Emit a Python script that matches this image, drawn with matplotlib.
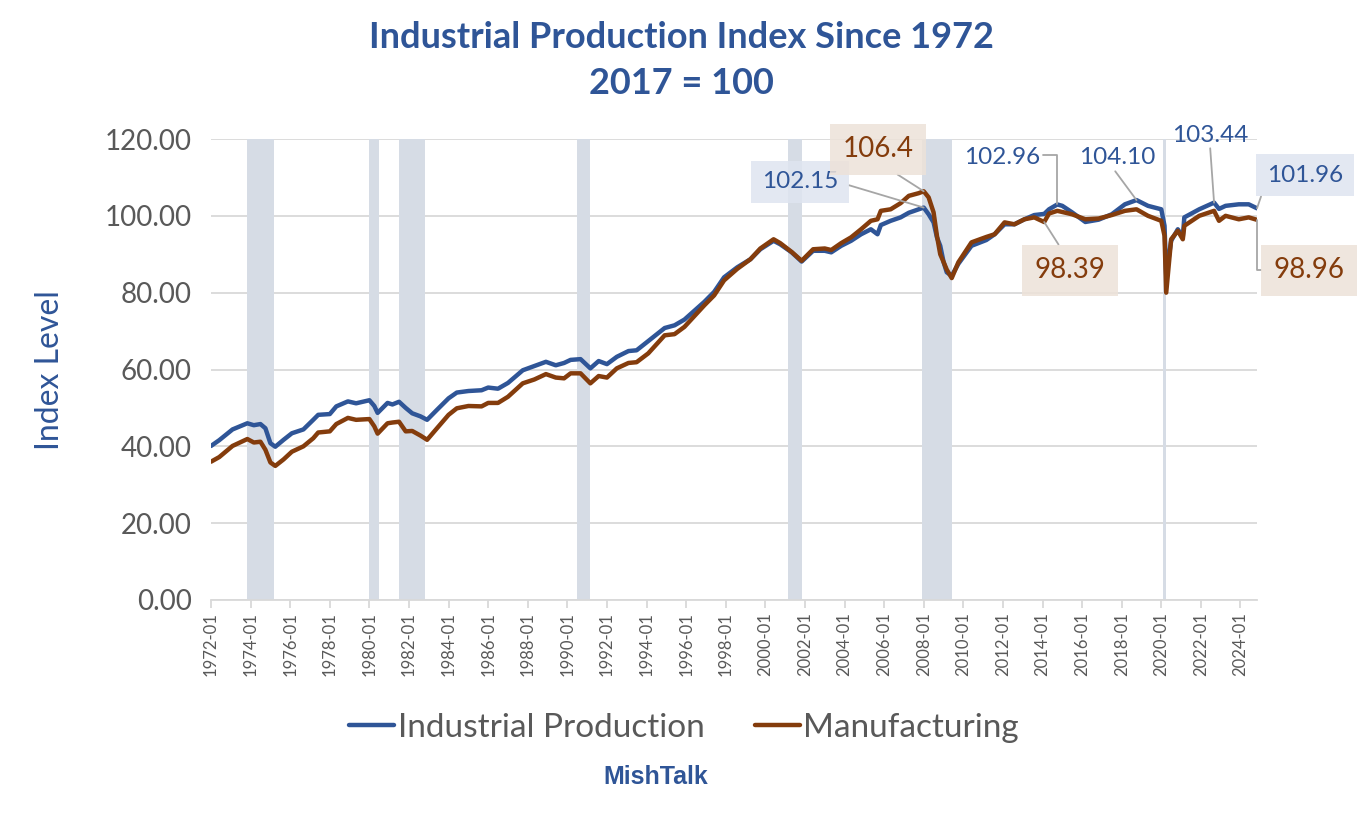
import matplotlib
matplotlib.use("Agg")
import matplotlib.pyplot as plt
import matplotlib.dates as mdates
import pandas as pd

plt.rcParams['font.family'] = ['Lato', 'DejaVu Sans']

# monthly readings (not every month, key turns kept)
dates = ["1972-01", "1972-06", "1973-02", "1973-11", "1974-03", "1974-07", "1974-10",
         "1975-01", "1975-04", "1975-09", "1976-02", "1976-09", "1977-03", "1977-06",
         "1978-01", "1978-05", "1978-12", "1979-05", "1980-01", "1980-04", "1980-06",
         "1980-12", "1981-03", "1981-07", "1981-11", "1982-03", "1982-08", "1982-12",
         "1983-06", "1984-01", "1984-06", "1985-01", "1985-09", "1986-01", "1986-07",
         "1987-01", "1987-10", "1988-05", "1988-12", "1989-06", "1989-11", "1990-03",
         "1990-09", "1991-03", "1991-08", "1992-01", "1992-07", "1993-02", "1993-07",
         "1994-02", "1994-12", "1995-06", "1995-12", "1996-06", "1996-12", "1997-06",
         "1997-12", "1998-08", "1999-04", "1999-10", "2000-06", "2000-10", "2001-05",
         "2001-11", "2002-06", "2003-01", "2003-05", "2003-11", "2004-05", "2004-11",
         "2005-05", "2005-09", "2005-11", "2006-05", "2006-11", "2007-04", "2007-10",
         "2008-01", "2008-04", "2008-07", "2008-09", "2008-11", "2009-01", "2009-03",
         "2009-06", "2009-10", "2010-06", "2011-03", "2011-08", "2012-02", "2012-08",
         "2013-02", "2013-08", "2014-02", "2014-05", "2014-10", "2015-01", "2015-07",
         "2016-03", "2016-11", "2017-07", "2018-03", "2018-10", "2019-05", "2020-01",
         "2020-03", "2020-04", "2020-07", "2020-11", "2021-02", "2021-03", "2021-12",
         "2022-09", "2022-12", "2023-04", "2023-12", "2024-06", "2024-11"]

ip = [40.1, 41.6, 44.4, 46.0, 45.5, 45.8, 44.7,
      40.8, 39.9, 41.7, 43.4, 44.4, 46.9, 48.2,
      48.4, 50.4, 51.7, 51.2, 52.0, 50.5, 48.7,
      51.3, 50.9, 51.6, 50.0, 48.6, 47.8, 46.9,
      49.5, 52.5, 54.0, 54.4, 54.6, 55.3, 55.0,
      56.5, 59.8, 60.9, 62.0, 61.1, 61.7, 62.5,
      62.7, 60.3, 62.2, 61.4, 63.3, 64.8, 65.0,
      67.4, 70.8, 71.5, 73.0, 75.3, 77.6, 80.2,
      84.0, 86.6, 88.7, 91.3, 93.5, 92.6, 90.5,
      88.1, 90.9, 90.9, 90.5, 92.2, 93.5, 95.2,
      96.5, 95.2, 97.6, 98.7, 99.6, 100.8, 101.7,
      102.15, 100.4, 98.3, 94.4, 92.2, 88.0, 85.3,
      84.4, 87.5, 92.2, 93.7, 95.2, 97.8, 97.8,
      99.1, 100.2, 100.5, 101.7, 102.96, 102.6, 100.9,
      98.4, 99.0, 100.4, 103.0, 104.10, 102.6, 101.7,
      97.4, 84.5, 93.5, 96.5, 94.5, 99.6, 101.7,
      103.44, 101.8, 102.6, 103.0, 103.0, 101.96]

mfg = [36.0, 37.2, 40.1, 41.9, 41.0, 41.2, 39.1,
       35.8, 34.9, 36.6, 38.6, 40.0, 42.1, 43.6,
       43.9, 45.8, 47.4, 46.9, 47.1, 45.2, 43.3,
       46.0, 46.2, 46.4, 43.9, 44.0, 42.8, 41.7,
       44.7, 48.2, 49.9, 50.5, 50.4, 51.3, 51.3,
       52.9, 56.4, 57.4, 58.8, 57.9, 57.7, 59.0,
       59.0, 56.4, 58.3, 57.9, 60.3, 61.7, 61.9,
       64.2, 68.9, 69.2, 71.1, 73.9, 76.7, 79.3,
       83.2, 86.2, 88.7, 91.5, 93.9, 92.9, 90.6,
       88.3, 91.3, 91.5, 91.1, 92.9, 94.4, 96.5,
       98.7, 99.1, 101.3, 101.7, 103.3, 105.2, 105.9,
       106.4, 104.8, 100.9, 94.8, 90.0, 88.0, 86.0,
       83.8, 87.9, 93.1, 94.5, 95.2, 98.3, 97.8,
       99.1, 99.6, 98.39, 100.6, 101.3, 101.0, 100.4,
       99.1, 99.3, 100.2, 101.3, 101.7, 100.0, 98.7,
       94.8, 80.0, 93.9, 96.1, 93.9, 97.4, 100.0,
       101.3, 98.7, 100.0, 99.1, 99.6, 98.96]

rec_start = ["1973-11", "1980-01", "1981-07", "1990-07", "2001-03", "2007-12", "2020-02"]
rec_end = ["1975-03", "1980-07", "1982-11", "1991-03", "2001-11", "2009-06", "2020-04"]

BLUE = "#2F5597"
BROWN = "#843C0C"
GRAY = "#595959"
W, H = 1360, 825

t = pd.to_datetime(dates)

fig = plt.figure(figsize=(13.6, 8.25), dpi=100)
ax = fig.add_axes([211/W, 1-600/H, (1257-211)/W, (600-139)/H])

for s, e in zip(rec_start, rec_end):
    ax.axvspan(pd.Timestamp(s), pd.Timestamp(e), color="#D6DCE5", lw=0, zorder=1)

ax.plot(t, ip, color=BLUE, lw=3.2, solid_capstyle="round", zorder=3, label="Industrial Production")
ax.plot(t, mfg, color=BROWN, lw=3.2, solid_capstyle="round", zorder=4, label="Manufacturing")

ax.set_ylim(0, 120)
ax.set_yticks(range(0, 121, 20))
ax.yaxis.set_major_formatter(matplotlib.ticker.FormatStrFormatter("%.2f"))
ax.set_xlim(t[0], t[-1])
ax.xaxis.set_major_locator(mdates.YearLocator(2, month=1, day=1))
ax.xaxis.set_major_formatter(mdates.DateFormatter("%Y-%m"))
ax.grid(axis="y", color="#D9D9D9", lw=1.3, zorder=0)
ax.set_axisbelow(True)
for side in ["top", "right", "left"]:
    ax.spines[side].set_visible(False)
ax.spines["bottom"].set_color("#D9D9D9")
ax.spines["bottom"].set_linewidth(1.3)
ax.tick_params(axis="y", length=0, labelsize=20, labelcolor=GRAY, pad=14)
ax.tick_params(axis="x", length=6, color="#D9D9D9", width=1.3, labelsize=12,
               labelcolor=GRAY, labelrotation=90, pad=3)

fig.text(681/W, 1-38/H, "Industrial Production Index Since 1972", ha="center", va="center",
         fontsize=26, fontweight="bold", color=BLUE)
fig.text(681/W, 1-84/H, "2017 = 100", ha="center", va="center",
         fontsize=26, fontweight="bold", color=BLUE)
fig.text(50/W, 1-370/H, "Index Level", rotation=90, ha="center", va="center",
         fontsize=23, color=BLUE)
fig.text(656/W, 1-777/H, "MishTalk", ha="center", va="center", fontsize=18,
         fontweight="bold", color=BLUE, family="Liberation Sans")

leg = fig.legend(loc="center", bbox_to_anchor=(684/W, 1-728/H), ncol=2, frameon=False,
                 fontsize=24, handlelength=1.35, handletextpad=0.1, columnspacing=1.5)
for txt in leg.get_texts():
    txt.set_color(GRAY)


def note(txt, series, d, tx, ty, color, size, box=None, rel=(0.5, 0.5), conn="arc3"):
    i = dates.index(d)
    kw = {}
    if box:
        kw["bbox"] = dict(boxstyle="square,pad=0.45", fc=box, ec="none", alpha=0.85)
    ax.annotate(txt, xy=(t[i], series[i]), xycoords="data",
                xytext=(tx, H-ty), textcoords="figure pixels",
                ha="center", va="center", fontsize=size, color=color,
                annotation_clip=False, zorder=6,
                arrowprops=dict(arrowstyle="-", color="#A6A6A6", lw=1.3, shrinkA=0,
                                shrinkB=0, relpos=rel, connectionstyle=conn), **kw)


LBLUE = "#DFE5F0"
BEIGE = "#EDE2D9"
note("102.15", ip, "2008-01", 800, 182, BLUE, 17.5, LBLUE, rel=(1, 0.5))
note("106.4", mfg, "2008-01", 878, 149, BROWN, 20, BEIGE, rel=(0.5, 0))
note("102.96", ip, "2014-10", 1002, 157, BLUE, 17.5, rel=(1, 0.6),
     conn="angle,angleA=0,angleB=90,rad=0")
note("104.10", ip, "2018-10", 1117, 158, BLUE, 17.5, rel=(0.45, 0))
note("103.44", ip, "2022-09", 1210, 135, BLUE, 17.5, rel=(0.5, 0))
note("101.96", ip, "2024-11", 1305, 175, BLUE, 17.5, LBLUE, rel=(0, 0.3))
note("98.39", mfg, "2014-02", 1070, 270, BROWN, 20, BEIGE, rel=(0.45, 1))
note("98.96", mfg, "2024-11", 1309, 270, BROWN, 20, BEIGE, rel=(0, 0.5),
     conn="angle,angleA=0,angleB=90,rad=0")

fig.savefig("out.png", dpi=100)
